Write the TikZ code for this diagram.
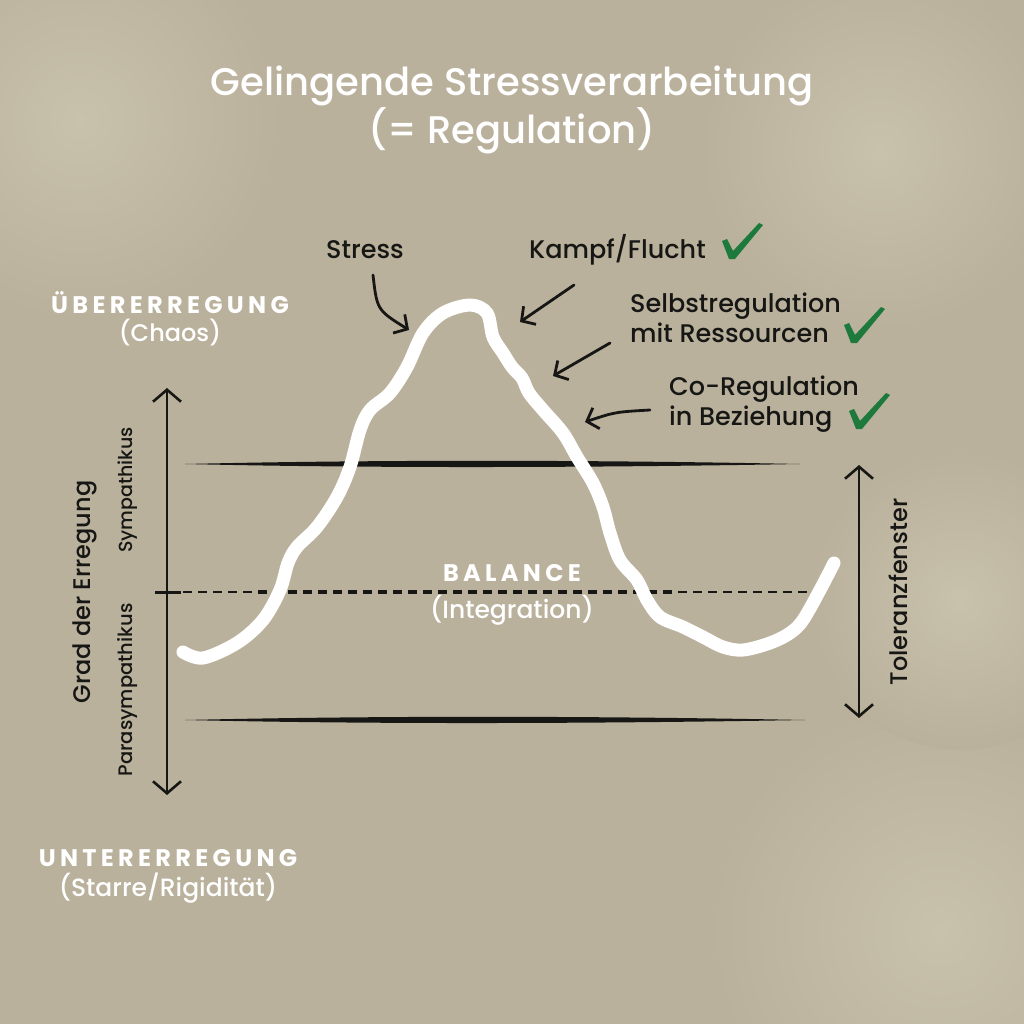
\documentclass[tikz,border=0pt]{standalone}
\usepackage{fontspec}
\setmainfont{Poppins}[UprightFont=* Medium, BoldFont=* SemiBold]
\newfontfamily\sperrfont{Poppins}[UprightFont=* Bold, BoldFont=* Bold, LetterSpace=18]
\usetikzlibrary{arrows.meta, positioning}

\definecolor{hintergrund}{RGB}{186,177,156}
\definecolor{hell}{RGB}{200,193,172}
\definecolor{hakengruen}{RGB}{30,122,60}
\definecolor{tinte}{RGB}{22,22,20}

\tikzset{
	titel/.style={text=white, inner sep=0pt, align=center, font=\fontsize{38.5}{46}\selectfont},
	notiz/.style={text=tinte, inner sep=0pt, align=left, font=\fontsize{25.5}{30}\selectfont},
	zone/.style={text=white, inner sep=0pt, font=\sperrfont\fontsize{24}{26}\selectfont},
	zonezusatz/.style={text=white, inner sep=0pt, font=\fontsize{24}{26}\selectfont},
	achse/.style={text=tinte, inner sep=0pt, rotate=90},
	pfeil/.style={draw=tinte, line width=2.8pt, line cap=round, -{Straight Barb[length=10pt,width=22pt]}},
	doppelpfeil/.style={draw=tinte, line width=2.6pt, {Straight Barb[length=12pt,width=28pt]}-{Straight Barb[length=12pt,width=28pt]}},
	welle/.style={draw=white, line width=13pt, line cap=round, line join=round},
	fleck/.style={inner color=hell, outer color=hintergrund},
	haken/.pic={\fill[hakengruen] (-9,-17) -- (-4,-19) -- (2,-7) -- (28,-35) -- (32,-33) -- (4,1) -- (-2,1) -- cycle;}
}

\begin{document}
\begin{tikzpicture}[x=1pt, y=-1pt, node distance=30pt]
	\useasboundingbox (0,0) rectangle (1024,1024);
	\begin{scope}
		\clip (0,0) rectangle (1024,1024);
		\fill[hintergrund] (0,0) rectangle (1024,1024);
		\shade[fleck] (940,930) circle (230);
		\shade[fleck] (80,120) circle (200);
		\shade[fleck] (880,150) circle (180);
		\shade[fleck] (960,600) circle (150);
	\end{scope}

	\node[titel] (titel) at (512,110) {Gelingende Stressverarbeitung\\(= Regulation)};

	% Zonen links
	\node[zone] (ueber) at (170,303) {ÜBERERREGUNG};
	\node[zonezusatz] (chaos) [below of=ueber] {(Chaos)};
	\node[zone] (unter) at (168,858) {UNTERERREGUNG};
	\node[zonezusatz, font=\fontsize{25}{26}\selectfont] (starre) [below of=unter] {(Starre/Rigidität)};
	\node[zone] (balance) at (512,573) {BALANCE};
	\node[zonezusatz, font=\fontsize{25}{26}\selectfont] (integration) [below of=balance, yshift=-7pt] {(Integration)};

	% Achsen
	\node[achse, font=\fontsize{24}{26}\selectfont] (grad) at (85,592) {Grad der Erregung};
	\node[achse, font=\fontsize{19}{20}\selectfont] (sympathikus) at (128,490) {Sympathikus};
	\node[achse, font=\fontsize{19.5}{20}\selectfont] (parasympathikus) at (128,690) {Parasympathikus};
	\node[achse, font=\fontsize{24}{26}\selectfont] (toleranz) at (898,592) {Toleranzfenster};

	\coordinate (gradoben) at (167,388);
	\coordinate (gradunten) at (167,795);
	\coordinate (toloben) at (859,465);
	\coordinate (tolunten) at (859,718);
	\draw[doppelpfeil] (gradoben) -- (gradunten);
	\draw[doppelpfeil] (toloben) -- (tolunten);
	\draw[tinte, line width=3pt] (155,592) -- (181,592);

	% Grenzen des Fensters
	\fill[tinte] (185,464) .. controls (380,459.5) and (600,460) .. (800,464) .. controls (600,467.5) and (380,468.5) .. cycle;
	\fill[tinte] (185,720) .. controls (380,715.5) and (600,716) .. (805,720) .. controls (600,723.5) and (380,724.5) .. cycle;
	\draw[tinte, line width=1.8pt, dash pattern=on 9pt off 6pt] (183,592) -- (822,592);
	\draw[tinte, line width=3.6pt, dash pattern=on 9pt off 6pt] (258,592) -- (678,592);

	% Erregungskurve
	\draw[welle] plot[smooth, tension=0.55] coordinates {
		(183,652) (203,658) (237,643) (263,620) (280,590) (288,563) (297,547)
		(317,527) (337,497) (350,467) (360,430) (370,410) (390,393) (407,367)
		(423,333) (443,313) (470,305) (487,313) (493,337) (503,353) (512,367)
		(522,378) (529,393) (543,410) (563,433) (577,457) (593,483) (603,507)
		(610,533) (620,560) (637,580) (647,600) (660,617) (683,627) (703,637)
		(723,647) (743,650) (770,643) (790,633) (803,620) (820,590) (834,563)};

	% Beschriftungen oben
	\node[notiz] (stress) at (365,250) {Stress};
	\node[notiz, anchor=west] (kampf) at (529,250) {Kampf/Flucht};
	\node[notiz, anchor=west] (selbst) at (630,318) {Selbstregulation\\mit Ressourcen};
	\node[notiz, anchor=west] (co) at (669,404) {Co-Regulation\\in Beziehung};

	\pic at (731,258) {haken};
	\pic at (853,342) {haken};
	\pic at (858,428) {haken};

	\coordinate (stressfuss) at (373,275);
	\coordinate (stressspitze) at (409,330);
	\coordinate (kampffuss) at (574,285);
	\coordinate (kampfspitze) at (520,322);
	\coordinate (selbstfuss) at (610,343);
	\coordinate (selbstspitze) at (553,376);
	\coordinate (cofuss) at (650,410);
	\coordinate (cospitze) at (585,422);

	\draw[pfeil] (stressfuss) .. controls (377,310) .. (stressspitze);
	\draw[pfeil] (kampffuss) -- (kampfspitze);
	\draw[pfeil] (selbstfuss) -- (selbstspitze);
	\draw[pfeil] (cofuss) .. controls (615,412) .. (cospitze);
\end{tikzpicture}
\end{document}
